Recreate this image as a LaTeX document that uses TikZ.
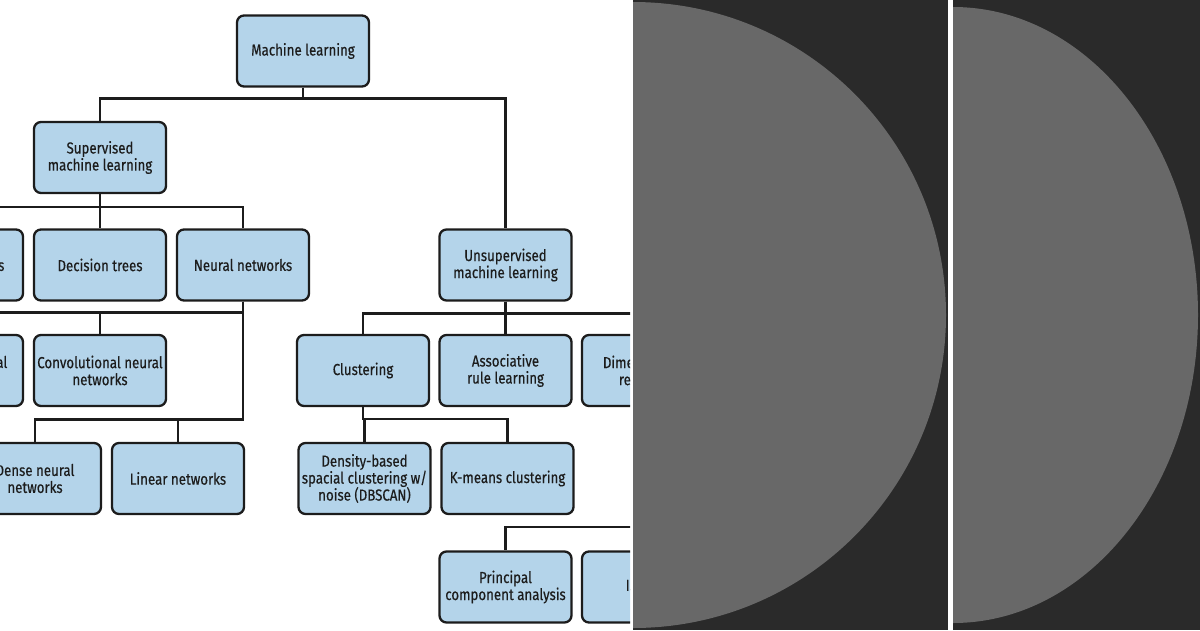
\documentclass[tikz,border=0pt]{standalone}
\usepackage{fontspec}
\setmainfont{Fira Sans}[FakeStretch=0.83, FakeBold=0.4]
\usepackage{xcolor}
\usepackage{tikz}
\usetikzlibrary{calc}
\definecolor{boxblue}{RGB}{180,212,234}
\definecolor{inkgray}{RGB}{28,28,28}
\definecolor{panelgray}{RGB}{42,42,42}
\definecolor{discgray}{RGB}{104,104,104}

\begin{document}
\begin{tikzpicture}[x=1pt, y=-1pt,
    mlbox/.style={draw=inkgray, line width=2.3pt, rounded corners=7pt, fill=boxblue, text=inkgray, minimum width=132pt, minimum height=71pt, inner sep=2pt, align=center, font=\fontsize{16}{17}\selectfont},
    link/.style={draw=inkgray, line width=2.4pt}]
  \useasboundingbox (0,0) rectangle (1200,630);
  \fill[white] (0,0) rectangle (1200,630);

  \begin{scope}
    \clip (0,0) rectangle (630,630);
    % root and first split
    \node[mlbox] (ml) at (303,51) {Machine learning};
    \node[mlbox] (sup) at (100,157.5) {Supervised\\machine learning};
    \node[mlbox] (unsup) at (505.5,265) {Unsupervised\\machine learning};

    % supervised side
    \node[mlbox] (forest) at (-43,265) {Random forests};
    \node[mlbox] (tree) at (100,265) {Decision trees};
    \node[mlbox] (nn) at (243,265) {Neural networks};
    \node[mlbox] (rnn) at (-43,370.5) {Recurrent neural\\networks};
    \node[mlbox] (cnn) at (100,370.5) {Convolutional neural\\networks};
    \node[mlbox] (dense) at (35,478.5) {Dense neural\\networks};
    \node[mlbox] (linear) at (178,478.5) {Linear networks};

    % unsupervised side
    \node[mlbox] (clust) at (363,370.5) {Clustering};
    \node[mlbox] (assoc) at (505.5,370.5) {Associative\\rule learning};
    \node[mlbox] (dimred) at (648,370.5) {Dimensionality\\reduction};
    \node[mlbox] (dbscan) at (364.5,478.5) {Density-based\\spacial clustering w/\\noise (DBSCAN)};
    \node[mlbox] (kmeans) at (507.5,478.5) {K-means clustering};
    \node[mlbox] (pca) at (505.5,587) {Principal\\component analysis};
    \node[mlbox] (isomap) at (648,587) {Isomap};

    \draw[link] (ml.south) -- ++(0,11) -| (sup.north);
    \draw[link] (ml.south) -- ++(0,11) -| (unsup.north);

    \draw[link] (sup.south) -- ++(0,13) -| (forest.north);
    \draw[link] (sup.south) -- ++(0,13) -| (tree.north);
    \draw[link] (sup.south) -- ++(0,13) -| (nn.north);

    \draw[link] (nn.south) -- ++(0,11) -| (rnn.north);
    \draw[link] (nn.south) -- ++(0,11) -| (cnn.north);
    \draw[link] (nn.south) -- ++(0,118) -| (dense.north);
    \draw[link] (nn.south) -- ++(0,118) -| (linear.north);

    \draw[link] (unsup.south) -- ++(0,12) -| (clust.north);
    \draw[link] (unsup.south) -- ++(0,12) -| (assoc.north);
    \draw[link] (unsup.south) -- ++(0,12) -| (dimred.north);

    \draw[link] (clust.south) -- ++(0,12) -| (dbscan.north);
    \draw[link] (clust.south) -- ++(0,12) -| (kmeans.north);

    \draw[link] (dimred.south) -- ++(0,120) -| (pca.north);
    \draw[link] (dimred.south) -- (isomap.north);
  \end{scope}

  % dark panels with discs
  \fill[panelgray] (633,0) rectangle (948,630);
  \begin{scope}
    \clip (633,0) rectangle (948,630);
    \fill[discgray] (633,315) circle[radius=313];
  \end{scope}
  \fill[panelgray] (953,0) rectangle (1200,630);
  \begin{scope}
    \clip (953,0) rectangle (1200,630);
    \fill[discgray] (953,315) ellipse[x radius=245, y radius=308];
  \end{scope}
\end{tikzpicture}
\end{document}
